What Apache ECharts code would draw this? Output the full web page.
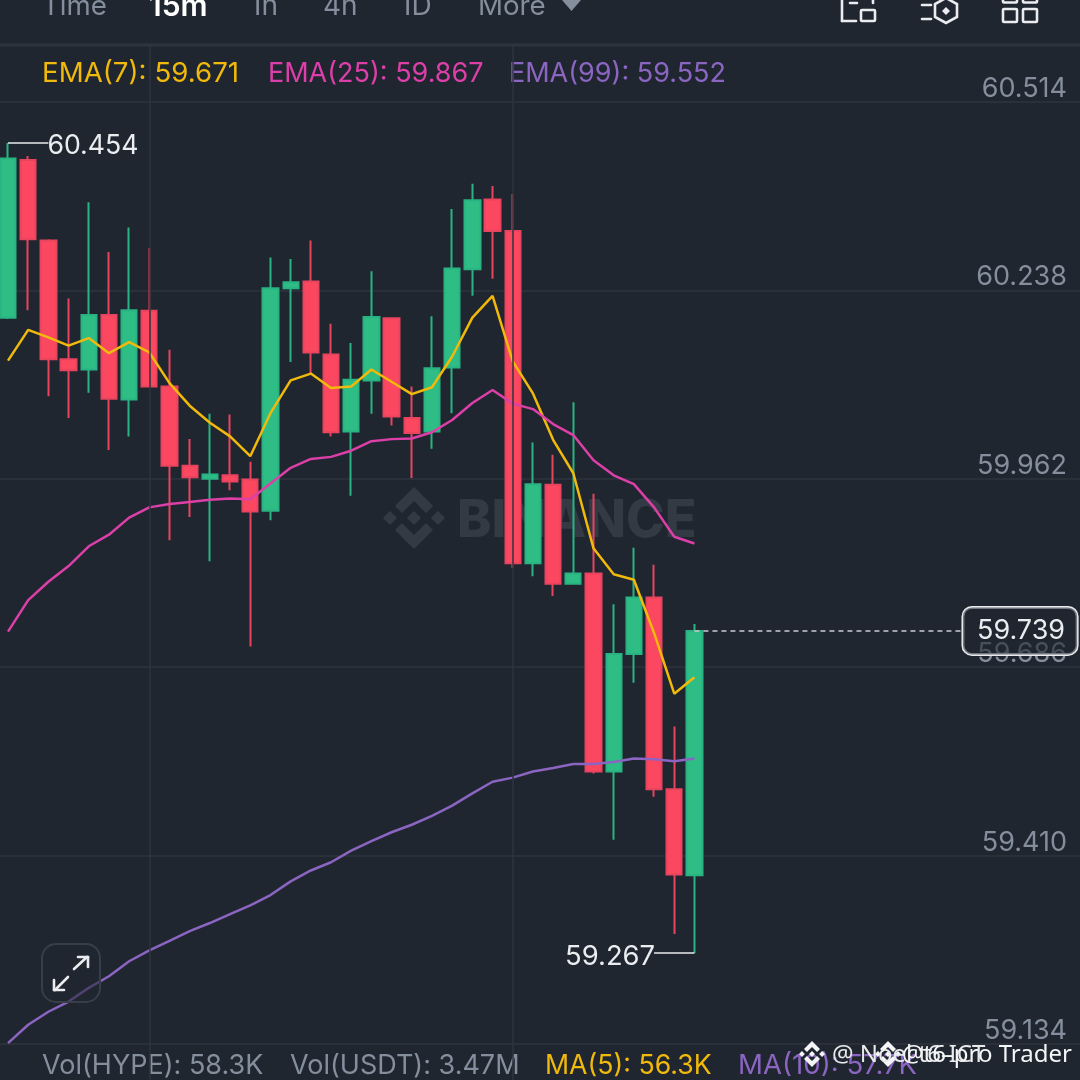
<!DOCTYPE html>
<html><head><meta charset="utf-8">
<style>html,body{margin:0;padding:0;background:#1f2630}#c{width:1080px;height:1080px}</style>
<script src="https://cdn.jsdelivr.net/npm/echarts@6/dist/echarts.min.js"></script>
</head><body><div id="c"></div>
<script>
// [open, close, low, high]
const candles = [
[60.198,60.431,60.196,60.454],[60.429,60.313,60.209,60.435],[60.311,60.137,60.083,60.313],
[60.137,60.121,60.051,60.226],[60.122,60.202,60.088,60.367],[60.202,60.079,60.004,60.294],
[60.078,60.209,60.024,60.330],[60.208,60.097,60.097,60.300],[60.097,59.981,59.872,60.151],
[59.981,59.964,59.906,60.020],[59.962,59.968,59.841,60.057],[59.967,59.958,59.945,60.056],
[59.961,59.914,59.716,59.987],[59.915,60.241,59.901,60.286],[60.241,60.250,60.133,60.284],
[60.251,60.147,60.117,60.311],[60.144,60.030,60.024,60.189],[60.031,60.107,59.937,60.161],
[60.106,60.199,60.057,60.266],[60.197,60.053,60.040,60.198],[60.051,60.029,59.963,60.097],
[60.031,60.124,60.006,60.200],[60.125,60.270,60.058,60.357],[60.269,60.370,60.230,60.394],
[60.371,60.325,60.255,60.391],[60.325,59.838,59.831,60.379],[59.838,59.954,59.819,60.015],
[59.953,59.808,59.790,59.997],[59.808,59.823,59.807,60.074],[59.823,59.533,59.530,59.940],
[59.533,59.705,59.433,59.778],[59.705,59.788,59.663,59.861],[59.788,59.507,59.496,59.836],
[59.507,59.382,59.295,59.599],[59.381,59.739,59.267,59.749]
];
const ema7 = [60.135,60.180,60.169,60.157,60.168,60.146,60.162,60.147,60.102,60.069,60.044,60.024,59.995,60.058,60.106,60.116,60.095,60.097,60.122,60.104,60.086,60.096,60.141,60.198,60.230,60.134,60.087,60.019,59.970,59.860,59.822,59.814,59.736,59.647,59.671];
const ema25 = [59.738,59.784,59.811,59.834,59.863,59.880,59.905,59.920,59.925,59.928,59.931,59.933,59.932,59.955,59.978,59.991,59.994,60.003,60.017,60.020,60.021,60.030,60.048,60.073,60.092,60.072,60.064,60.042,60.026,59.989,59.967,59.954,59.920,59.877,59.867];
const ema99 = [59.135,59.162,59.181,59.196,59.216,59.233,59.255,59.271,59.285,59.299,59.311,59.324,59.337,59.352,59.372,59.388,59.400,59.417,59.431,59.444,59.455,59.468,59.483,59.501,59.518,59.524,59.533,59.538,59.544,59.544,59.547,59.552,59.551,59.548,59.552];
const priceTicks = [59.134,59.410,59.686,59.962,60.238,60.514];
const timeGridIndex = [7,25];
const highPoint = {index:0, price:60.454};
const lowPoint = {index:34, price:59.267};
const lastPrice = 59.739;
const tabs = ['Time','15m','1h','4h','1D','More'];
const volumeLabels = ['Vol(HYPE): 58.3K','Vol(USDT): 3.47M','MA(5): 56.3K','MA(10): 57.7K'];

const BG='#1f2630',GRID='#2e343e',GRAY='#848e9c',WHITE='#eaecef',
  UP='#2ebd85',DOWN='#fc4761',UPW='#2ab382',DOWNW='#e8445e',
  Y='#f0b90b',P='#dd3fa8',V='#8b65c1',FONT='Inter, "Noto Sans", sans-serif',FS=27;
const logoParts=[
 [[12.116,14.404],[16,10.52],[19.886,14.406],[22.146,12.146],[16,6],[9.856,12.144]],
 [[6,16],[8.26,13.74],[10.52,16],[8.26,18.26]],
 [[21.48,16],[23.74,13.74],[26,16],[23.74,18.26]],
 [[16,13.706],[18.294,16],[16,18.294],[13.706,16]],
 [[12.116,17.596],[16,21.48],[19.886,17.594],[22.146,19.853],[16,26],[9.853,19.856]]
];
const txt=(text,x,y,fill,size=FS,weight=400,extra={})=>({type:'text',z:5,silent:true,style:Object.assign({text,x,y,fill,font:`${weight} ${size}px ${FONT}`,textVerticalAlign:'middle'},extra)});
const ln=(x1,y1,x2,y2,stroke=WHITE,w=2.6,z=5)=>({type:'line',z,silent:true,shape:{x1,y1,x2,y2},style:{stroke,lineWidth:w,lineCap:'round'}});
const box=(x,y,w,h,r=1)=>({type:'rect',z:5,silent:true,shape:{x,y,width:w,height:h,r},style:{fill:'none',stroke:WHITE,lineWidth:2.6}});
const logoAt=(x,y,s,fill,z)=>logoParts.map(part=>({type:'polygon',z,silent:true,shape:{points:part.map(([a,b])=>[x+(a-16)*s/20,y+(b-16)*s/20])},style:{fill}}));

const tabX=[42,149,250,323,400,478];
const tabSize=[27.7,30,28,28,28,27.7];
const volX=[42,290,545,738], volC=[GRAY,GRAY,Y,V], volSize=[27,27,26.7,27.6];
const graphics=[
  ln(0,45,1080,45,GRID,3,0),
  ...tabs.map((t,i)=>txt(t,tabX[i],7,i==1?'#ffffff':GRAY,tabSize[i],i==1?600:400)),
  {type:'polygon',z:5,silent:true,shape:{points:[[562,0],[581,0],[571.5,11]]},style:{fill:GRAY}},
  // layout icon
  ln(842,0,842,21),ln(842,21,856,21),ln(850,3,857,3),box(861,10,14,11),ln(873,0,873,3),
  // indicator icon
  ln(922,5,931,5),ln(922,19,931,19),
  {type:'polygon',z:5,silent:true,shape:{points:[[946,-2],[957,4],[957,17],[946,23],[935,17],[935,4]]},style:{fill:'none',stroke:WHITE,lineWidth:2.6}},
  {type:'polygon',z:5,silent:true,shape:{points:[[946,7],[950,11],[946,15],[942,11]]},style:{fill:WHITE}},
  // grid icon
  box(1003,-12,14,14.5),box(1023,-12,14,14.5),box(1003,9,14,13),box(1023,9,14,13),
  // EMA legend
  txt('EMA(7): '+ema7[ema7.length-1].toFixed(3),42,74,Y,27.7),
  txt('EMA(25): '+ema25[ema25.length-1].toFixed(3),268,74,P),
  txt('EMA(99): '+ema99[ema99.length-1].toFixed(3),509,74,V),
  // BINANCE watermark
  ...logoAt(414,518,62,'#343a44',1),
  {type:'text',z:1,silent:true,style:{text:'BINANCE',x:457,y:521,fill:'#343a44',font:`800 52px ${FONT}`,textVerticalAlign:'middle'}},
  // expand button
  {type:'rect',z:6,silent:true,shape:{x:42,y:944,width:58,height:58,r:14},style:{fill:'rgba(31,38,48,0.55)',stroke:'#383e48',lineWidth:2}},
  ln(74,969,87,957,WHITE,2.6,7),ln(78,957,88,957,WHITE,2.6,7),ln(88,957,88,967,WHITE,2.6,7),
  ln(68,977,55,990,WHITE,2.6,7),ln(54,980,54,990,WHITE,2.6,7),ln(54,990,64,990,WHITE,2.6,7),
  // volume strip
  ...volumeLabels.map((t,i)=>txt(t,volX[i],1066,volC[i],volSize[i])),
  // repost marks
  ...logoAt(812,1054,26,'#f4f5f6',8),...logoAt(888,1054,26,'#f4f5f6',8),
  {type:'text',z:8,silent:true,style:{text:'@ Noel t6-ICT',x:832,y:1055,fill:'#e8e9ea',font:'400 24px "Noto Sans"',textVerticalAlign:'middle'}},
  {type:'text',z:8,silent:true,style:{text:'@t6-pro Trader',x:902,y:1055,fill:'#f4f5f6',font:'400 24px "Noto Sans"',textVerticalAlign:'middle'}}
];
const pairs=a=>a.map((v,i)=>[i,v]);
const lineSeries=(name,data,color)=>({name,type:'line',data:pairs(data),symbol:'none',z:4,silent:true,animation:false,lineStyle:{color,width:2.5},itemStyle:{color}});

const chart=echarts.init(document.getElementById('c'),null,{renderer:'canvas',width:1080,height:1080});
chart.setOption({
  animation:false,backgroundColor:BG,
  grid:{left:0,top:46,width:1080,height:1034,containLabel:false},
  xAxis:{type:'value',min:-0.396,max:53.096,axisLine:{show:false},axisTick:{show:false},axisLabel:{show:false},splitLine:{show:false}},
  yAxis:{type:'value',position:'right',min:59.081,max:60.596,
    axisLine:{show:false},
    axisTick:{show:false,customValues:priceTicks},
    axisLabel:{inside:true,customValues:priceTicks,margin:13,color:GRAY,fontFamily:FONT,fontSize:27,verticalAlign:'bottom',lineHeight:26,formatter:v=>Number(v).toFixed(3)},
    splitLine:{show:true,lineStyle:{color:GRID,width:1.5}}},
  graphic:{elements:graphics},
  series:[
    {name:'timegrid',type:'line',data:[],z:1,silent:true,
     markLine:{silent:true,symbol:'none',animation:false,label:{show:false},lineStyle:{color:GRID,width:1.5,type:'solid'},data:timeGridIndex.map(i=>({xAxis:i}))}},
    {name:'price',type:'candlestick',data:candles.map((c,i)=>[i,...c]),encode:{x:0,y:[1,2,3,4]},barWidth:15.8,z:3,silent:true,clip:false,
     itemStyle:{color:UP,color0:DOWN,borderColor:UPW,borderColor0:DOWNW,borderWidth:2},
     markLine:{silent:true,symbol:'none',animation:false,z:5,
       data:[
        [{coord:[highPoint.index,highPoint.price],lineStyle:{color:WHITE,width:1.5,type:'solid'},
          label:{show:true,position:'end',distance:-1,offset:[0,3],color:WHITE,fontFamily:FONT,fontSize:26.7,formatter:()=>highPoint.price.toFixed(3)}},
         {coord:[highPoint.index+2,highPoint.price]}],
        [{coord:[lowPoint.index-2,lowPoint.price],lineStyle:{color:WHITE,width:1.5,type:'solid'},
          label:{show:true,position:'start',distance:-1,offset:[0,4],color:WHITE,fontFamily:FONT,fontSize:27.4,formatter:()=>lowPoint.price.toFixed(3)}},
         {coord:[lowPoint.index,lowPoint.price]}],
        [{coord:[candles.length-1,lastPrice],lineStyle:{color:'#c9ccd1',width:1.5,type:[5,4]},
          label:{show:true,position:'end',distance:0,color:WHITE,fontFamily:FONT,fontSize:27,lineHeight:26,padding:[12,12,9,14],borderColor:WHITE,borderWidth:1.5,borderRadius:9,backgroundColor:'rgba(31,38,48,0.6)',formatter:()=>lastPrice.toFixed(3)}},
         {coord:[47.3,lastPrice]}]
       ]}},
    lineSeries('EMA(7)',ema7,Y),
    lineSeries('EMA(25)',ema25,P),
    lineSeries('EMA(99)',ema99,V)
  ]
});
</script></body></html>
